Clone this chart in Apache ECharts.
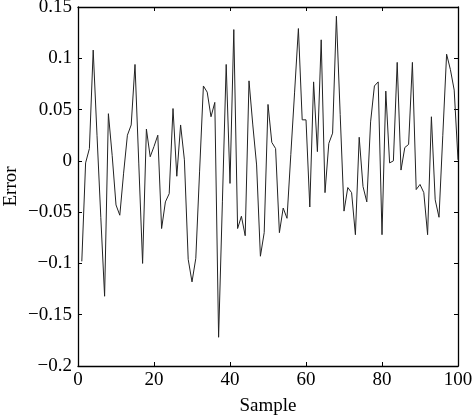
<!DOCTYPE html>
<html>
<head>
<meta charset="utf-8">
<script src="https://cdn.jsdelivr.net/npm/echarts@6/dist/echarts.min.js"></script>
<style>html,body{margin:0;padding:0;background:#fff}#c{width:474px;height:417px}</style>
</head>
<body>
<div id="c"></div>
<script>
const samples = Array.from({length: 100}, (_, i) => i + 1);
const errorValues = [
  -0.098, -0.002, 0.012, 0.108, 0.025, -0.055, -0.132, 0.046, 0.005, -0.043,
  -0.053, -0.012, 0.025, 0.035, 0.094, -0.003, -0.100, 0.031, 0.004, 0.014,
  0.025, -0.066, -0.040, -0.032, 0.051, -0.015, 0.035, 0.001, -0.096, -0.118,
  -0.095, -0.010, 0.073, 0.067, 0.043, 0.057, -0.172, -0.040, 0.094, -0.022,
  0.128, -0.066, -0.054, -0.073, 0.078, 0.035, -0.004, -0.093, -0.070, 0.055,
  0.018, 0.012, -0.070, -0.046, -0.056, 0.006, 0.067, 0.129, 0.040, 0.040,
  -0.045, 0.077, 0.009, 0.118, -0.031, 0.017, 0.027, 0.141, 0.045, -0.049,
  -0.026, -0.031, -0.072, 0.023, -0.025, -0.040, 0.038, 0.073, 0.077, -0.072,
  0.068, -0.002, 0.000, 0.096, -0.009, 0.013, 0.016, 0.096, -0.028, -0.023,
  -0.031, -0.072, 0.043, -0.038, -0.055, 0.025, 0.104, 0.089, 0.069, 0.001
];
const xTicks = [0, 20, 40, 60, 80, 100];
const yTicks = [-0.2, -0.15, -0.1, -0.05, 0, 0.05, 0.1, 0.15];

const font = '"Liberation Serif", "Times New Roman", serif';
const chart = echarts.init(document.getElementById('c'));
const axLine = {show: true, onZero: false, lineStyle: {color: '#000', width: 1.3}};
const tick = {show: true, inside: true, length: 4, lineStyle: {color: '#000', width: 1}};
const lbl = {fontFamily: font, fontSize: 19, color: '#000'};
chart.setOption({
  animation: false,
  grid: {left: 78, right: 16, top: 7, bottom: 51, containLabel: false, outerBoundsMode: 'none'},
  xAxis: [{
    type: 'value', min: xTicks[0], max: xTicks[xTicks.length - 1], interval: 20,
    name: 'Sample', nameLocation: 'middle', nameGap: 31, nameMoveOverlap: false,
    nameTextStyle: {fontFamily: font, fontSize: 19, color: '#000'},
    axisLine: axLine, axisTick: tick, splitLine: {show: false},
    axisLabel: Object.assign({margin: 5}, lbl)
  }, {
    type: 'value', position: 'top', min: xTicks[0], max: xTicks[xTicks.length - 1], interval: 20,
    axisLine: axLine, axisTick: tick, axisLabel: {show: false}, splitLine: {show: false}
  }],
  yAxis: [{
    type: 'value', min: yTicks[0], max: yTicks[yTicks.length - 1], interval: 0.05,
    name: 'Error', nameLocation: 'middle', nameGap: 57, nameRotate: 90, nameMoveOverlap: false,
    nameTextStyle: {fontFamily: font, fontSize: 19, color: '#000'},
    axisLine: axLine, axisTick: tick, splitLine: {show: false},
    axisLabel: Object.assign({margin: 6, formatter: v => {
      const s = String(Math.round(v * 1000) / 1000);
      return s.replace('-', '\u2212');
    }}, lbl)
  }, {
    type: 'value', position: 'right', min: yTicks[0], max: yTicks[yTicks.length - 1], interval: 0.05,
    axisLine: axLine, axisTick: tick, axisLabel: {show: false}, splitLine: {show: false}
  }],
  series: [{
    type: 'line',
    data: samples.map((s, i) => [s, errorValues[i]]),
    showSymbol: false,
    lineStyle: {color: '#222', width: 1},
    xAxisIndex: 0, yAxisIndex: 0
  }]
});
</script>
</body>
</html>
